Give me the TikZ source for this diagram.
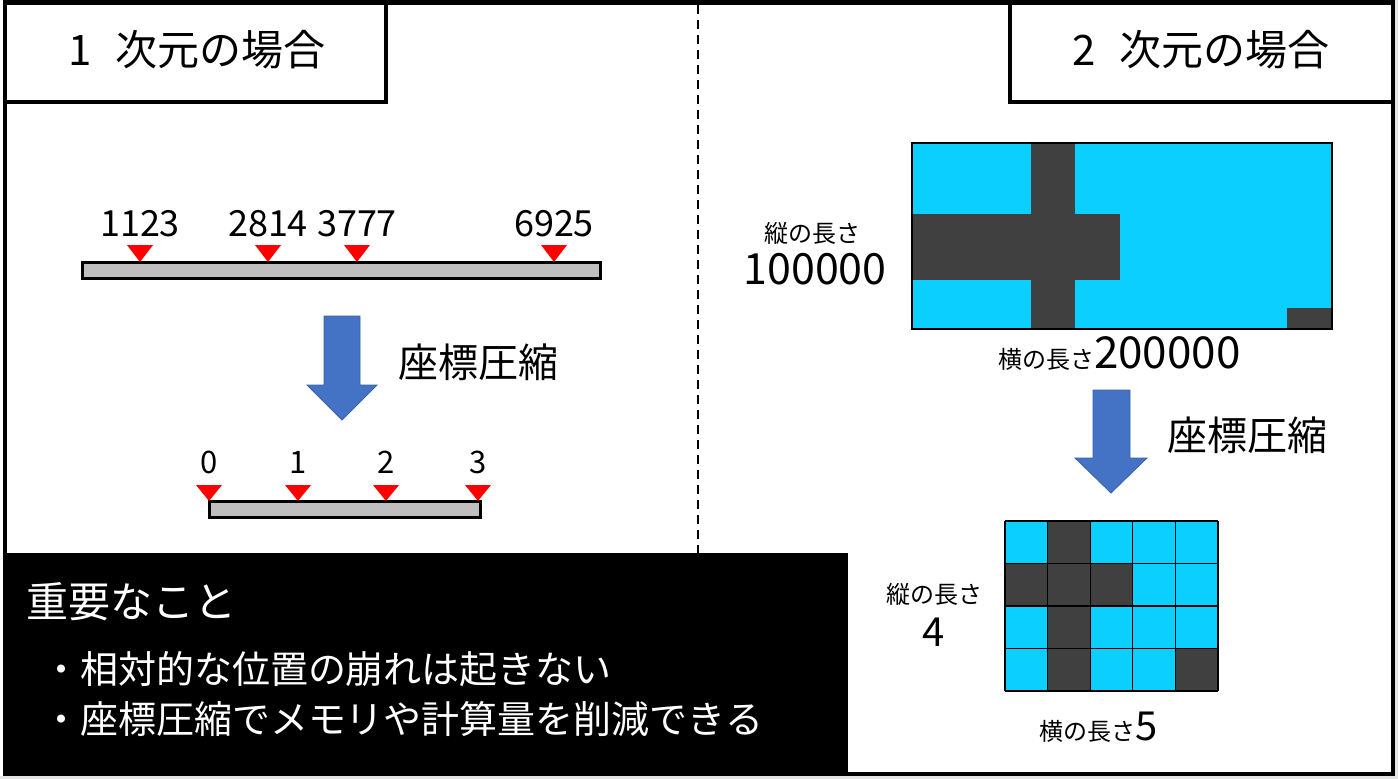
\documentclass[tikz,border=0pt]{standalone}
\usepackage{fontspec}
\setmainfont{Noto Sans CJK JP}
\definecolor{cellc}{HTML}{0BCFFF}
\definecolor{darkc}{HTML}{404040}
\definecolor{barc}{HTML}{BFBFBF}
\definecolor{arrowc}{HTML}{4472C4}
\definecolor{arrowedge}{HTML}{3A62AA}
\definecolor{edgegray}{HTML}{E4E4E4}
\newcommand{\fsz}[1]{\fontsize{#1}{#1}\selectfont}
\begin{document}
\begin{tikzpicture}[x=1pt,y=-1pt,
  lbl/.style={inner sep=0pt, outer sep=0pt, anchor=base},
  tri/.style={fill=red},
  numbar/.style={draw=black, line width=3pt, fill=barc},
  bigarrow/.style={fill=arrowc, draw=arrowedge, line width=0.8pt},
  gridline/.style={draw=black, line width=1.3pt}]
\useasboundingbox (0,0) rectangle (1398,779);
\fill[edgegray] (0,0) rectangle (1398,779);
\fill[white] (0,0) rectangle (1395,776);
% black info panel
\fill[black] (5,553) rectangle (848,775);
% outer frame
\draw[line width=4.5pt] (5,2.5) rectangle (1393,774);
% title boxes
\draw[line width=4pt] (5,2.5) rectangle (386,102);
\draw[line width=4pt] (1010,2.5) rectangle (1393,102);
\node[lbl] (t1) at (197,65) {\fsz{42}1\hspace{0.55em}次元の場合};
\node[lbl] (t2) at (1201,65) {\fsz{42}2\hspace{0.55em}次元の場合};
% dashed divider
\draw[line width=2.5pt, dash pattern=on 9pt off 6pt] (698,5) -- (698,553);

% ---------- 1D ----------
\draw[numbar] (82,262) rectangle (600,278);
\foreach \x/\t/\n in {140/1123/a, 268/2814/b, 357/3777/c, 554/6925/d}{
  \fill[tri] (\x-13,245) -- (\x+13,245) -- (\x,262) -- cycle;
  \node[lbl] (n\n) at (\x,236) {\fsz{36}\t};
}
\draw[bigarrow] (324,316) -- (360,316) -- (360,385) -- (377,385) -- (342,420)
  -- (307,385) -- (324,385) -- cycle;
\node[lbl, anchor=base west] (z1) at (398,377) {\fsz{40}座標圧縮};
\draw[numbar] (209,501) rectangle (480,517);
\foreach \x/\t in {209/0, 298/1, 386/2, 478/3}{
  \fill[tri] (\x-13,485) -- (\x+13,485) -- (\x,501) -- cycle;
  \node[lbl] (m\t) at (\x,473) {\fsz{31}\t};
}

% ---------- info panel text ----------
\node[lbl, anchor=base west, text=white] (imp) at (27,617) {\fsz{42}重要なこと};
\node[lbl, anchor=base west, text=white] (b1) at (42,683) {\fsz{38}・相対的な位置の崩れは起きない};
\node[lbl, anchor=base west, text=white] (b2) at (42,733) {\fsz{38}・座標圧縮でメモリや計算量を削減できる};

% ---------- 2D ----------
\fill[cellc] (912,143) rectangle (1332,329);
\fill[darkc] (1031,143) rectangle (1075,329);
\fill[darkc] (912,214) rectangle (1120,280);
\fill[darkc] (1287,308) rectangle (1332,329);
\draw[line width=2.2pt] (912,143) rectangle (1332,329);
\node[lbl] (h1) at (812,242) {\fsz{24}縦の長さ};
\node[lbl] (h1n) at (815,284) {\fsz{43}100000};
\node[lbl, anchor=base west] (w1) at (998,368) {\fsz{24}横の長さ\fsz{44}200000};

\draw[bigarrow] (1093,390) -- (1130,390) -- (1130,458) -- (1147,458) -- (1111,493)
  -- (1075,458) -- (1093,458) -- cycle;
\node[lbl, anchor=base west] (z2) at (1167,450) {\fsz{40}座標圧縮};

% grid 5x4
\def\gx{1005}\def\gy{521}\def\cw{42.6}\def\ch{42.5}
\fill[cellc] (\gx,\gy) rectangle (\gx+5*\cw,\gy+4*\ch);
\foreach \r/\c in {0/1, 1/0, 1/1, 1/2, 2/1, 3/1, 3/4}{
  \fill[darkc] (\gx+\c*\cw,\gy+\r*\ch) rectangle (\gx+\c*\cw+\cw,\gy+\r*\ch+\ch);
}
\foreach \i in {0,...,5}{ \draw[gridline] (\gx+\i*\cw,\gy) -- (\gx+\i*\cw,\gy+4*\ch); }
\foreach \j in {0,...,4}{ \draw[gridline] (\gx,\gy+\j*\ch) -- (\gx+5*\cw,\gy+\j*\ch); }
\node[lbl] (h2) at (934,603) {\fsz{24}縦の長さ};
\node[lbl] (h2n) at (934,646) {\fsz{40}4};
\node[lbl, anchor=base west] (w2) at (1039,740) {\fsz{24}横の長さ\fsz{40}5};
\end{tikzpicture}
\end{document}
